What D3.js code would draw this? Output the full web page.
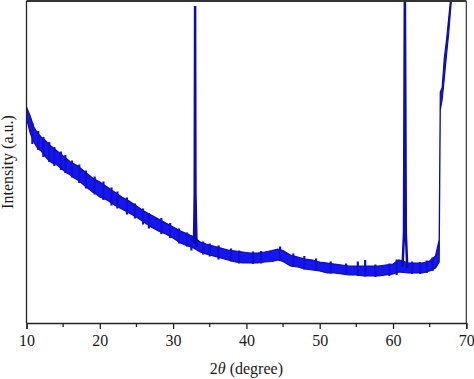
<!DOCTYPE html>
<html>
<head>
<meta charset="utf-8">
<script src="https://cdn.jsdelivr.net/npm/d3@7"></script>
<style>
  body { margin: 0; background: #fff; }
  text { font-family: "Liberation Serif", "Times New Roman", serif; fill: #1a1a1a; }
</style>
</head>
<body>
<div id="myVis"></div>
<script>
// XRD pattern, intensity in arbitrary counts

var width = 474;
var height = 379;
var padLeft = 26.5, padRight = 466.3, padTop = 1, padBottom = 323;

var xTicks = [10, 20, 30, 40, 50, 60, 70];
var xMinor = [15, 25, 35, 45, 55, 65];

// noisy background band (upper and lower edge)
var bandAngle = [10.0, 10.5, 11.0, 11.5, 12.0, 12.5, 13.0, 13.5, 14.0, 14.5, 15.0, 15.5, 16.0, 16.5, 17.0, 17.5, 18.0, 18.5, 19.0, 19.5,
  20.0, 21.0, 22.0, 23.0, 24.0, 25.0, 26.0, 27.0, 28.0, 29.0, 30.0, 31.0, 32.0, 32.8, 33.7, 34.5, 35.5, 36.5, 37.5, 38.5, 39.5,
  40.5, 41.5, 42.5, 43.5, 44.3, 45.0, 46.0, 47.0, 48.0, 49.0, 50.0, 51.0, 52.0, 53.0, 54.0, 55.0, 56.0, 57.0, 58.0, 59.0, 60.0,
  60.8, 62.1, 63.0, 64.0, 65.0, 65.8, 66.3, 66.45, 66.7, 67.0, 67.3, 67.6, 67.85, 68.2];
var bandHigh = [2160, 2070, 1960, 1900, 1860, 1830, 1790, 1760, 1730, 1700, 1670, 1640, 1610, 1590, 1570, 1540, 1510, 1480, 1450, 1430,
  1410, 1360, 1310, 1260, 1220, 1170, 1120, 1080, 1040, 1000, 960, 920, 890, 860, 810, 790, 770, 750, 730, 720, 710,
  700, 700, 710, 725, 740, 725, 680, 660, 640, 630, 610, 600, 590, 580, 570, 570, 570, 570, 570, 580, 590,
  630, 600, 600, 600, 620, 670, 830, 2310, 2350, 2650, 2830, 3050, 3230, 3500];
var bandLow = [2050, 1900, 1810, 1750, 1720, 1670, 1630, 1600, 1590, 1560, 1530, 1500, 1480, 1450, 1430, 1400, 1370, 1340, 1310, 1290,
  1260, 1230, 1180, 1140, 1100, 1060, 1010, 960, 920, 890, 850, 800, 770, 750, 710, 690, 670, 650, 630, 610, 600,
  600, 600, 610, 615, 630, 615, 570, 560, 540, 530, 520, 500, 500, 490, 480, 480, 470, 470, 470, 480, 490,
  510, 500, 500, 500, 520, 550, 610, 2130, 2230, 2450, 2680, 2900, 3130, 3400];

// single noise spikes sticking out of the band
var spikeAngle = [10.8, 11.6, 12.3, 13.1, 13.8, 14.7, 15.3, 16.2, 17.2, 18.1, 19.3, 20.5, 21.6, 22.4, 23.7, 24.8, 25.9, 26.7,
  28.4, 29.6, 30.8, 31.9, 32.5, 34.1, 35.0, 36.2, 37.9, 39.0, 40.9, 42.0, 44.6, 46.4, 47.9, 49.5, 51.5, 53.6, 55.2, 56.2,
  57.6, 59.5, 60.5, 62.6, 63.7, 64.6, 65.4];
var spikeHigh = [2000, 1920, 1860, 1810, 1760, 1715, 1680, 1625, 1585, 1525, 1465, 1415, 1355, 1315, 1255, 1195, 1145, 1100,
  1050, 1000, 945, 905, 875, 815, 795, 775, 745, 725, 715, 720, 765, 695, 670, 645, 615, 595, 615, 630,
  585, 595, 635, 615, 610, 625, 655];
var spikeLow = [1790, 1730, 1660, 1610, 1570, 1530, 1500, 1455, 1400, 1345, 1285, 1230, 1175, 1145, 1085, 1045, 985, 945,
  890, 850, 795, 765, 725, 685, 665, 635, 615, 595, 590, 595, 635, 560, 535, 520, 495, 480, 470, 465,
  460, 470, 480, 490, 490, 500, 520];

// sharp reflections
var peak1Angle = [32.85, 32.95, 33.0, 33.05, 33.2];
var peak1Counts = [800, 1300, 3170, 1300, 760];
var peak2Angle = [61.3, 61.5, 61.62, 61.75, 61.95];
var peak2Counts = [560, 900, 3400, 900, 550];

var svg = d3.select("#myVis")
  .append("svg")
  .attr("width", width)
  .attr("height", height);

var x = d3.scaleLinear().domain([10, 70]).range([padLeft, padRight]);
var y = d3.scaleLinear().domain([0, 3220]).range([padBottom, padTop]);

svg.append("clipPath").attr("id", "clip")
  .append("rect")
  .attr("x", padLeft).attr("y", padTop)
  .attr("width", padRight - padLeft).attr("height", padBottom - padTop);

var plot = svg.append("g").attr("clip-path", "url(#clip)");

var band = d3.area()
  .x(function(d, i) { return x(bandAngle[i]); })
  .y0(function(d, i) { return y(bandLow[i]); })
  .y1(function(d, i) { return y(bandHigh[i]); });

plot.append("path")
  .attr("d", band(bandAngle))
  .attr("fill", "#1616ee")
  .attr("stroke", "#0b0ba8")
  .attr("stroke-width", 1.2);

plot.append("g").selectAll("line")
  .data(spikeAngle)
  .join("line")
  .attr("x1", function(d) { return x(d); })
  .attr("x2", function(d) { return x(d); })
  .attr("y1", function(d, i) { return y(spikeHigh[i]); })
  .attr("y2", function(d, i) { return y(spikeLow[i]); })
  .attr("stroke", "#1010d0")
  .attr("stroke-width", 2.2);

var line = d3.line()
  .x(function(d) { return x(d[0]); })
  .y(function(d) { return y(d[1]); });

[[peak1Angle, peak1Counts], [peak2Angle, peak2Counts]].forEach(function(p) {
  plot.append("path")
    .attr("d", line(d3.zip(p[0], p[1])))
    .attr("fill", "none")
    .attr("stroke", "#0b0bb0")
    .attr("stroke-width", 2.5);
});

// frame
svg.append("line").attr("x1", padLeft).attr("x2", padRight).attr("y1", padTop).attr("y2", padTop)
  .attr("stroke", "#333").attr("stroke-width", 2);
svg.append("line").attr("x1", padRight).attr("x2", padRight).attr("y1", padTop).attr("y2", padBottom)
  .attr("stroke", "#333").attr("stroke-width", 1.2);
svg.append("line").attr("x1", padLeft).attr("x2", padLeft).attr("y1", padTop).attr("y2", padBottom)
  .attr("stroke", "#222").attr("stroke-width", 1.3);

var xAxis = svg.append("g")
  .attr("transform", "translate(0," + padBottom + ")")
  .call(d3.axisBottom(x).tickValues(xTicks).tickSize(6).tickPadding(6).tickFormat(d3.format("d")));
xAxis.select(".domain").attr("stroke", "#222").attr("stroke-width", 1.3);
xAxis.selectAll(".tick line").attr("stroke", "#222").attr("stroke-width", 1.3);
xAxis.selectAll("text").style("font-size", "16px").attr("fill", "#1a1a1a")
  .style("font-family", "'Liberation Serif', serif");

svg.append("g").selectAll("line")
  .data(xMinor)
  .join("line")
  .attr("x1", function(d) { return x(d); })
  .attr("x2", function(d) { return x(d); })
  .attr("y1", padBottom)
  .attr("y2", padBottom + 4)
  .attr("stroke", "#222")
  .attr("stroke-width", 1.3);

var xTitle = svg.append("text")
  .attr("x", x(40))
  .attr("y", 374)
  .attr("text-anchor", "middle")
  .style("font-size", "16px");
xTitle.append("tspan").text("2");
xTitle.append("tspan").style("font-style", "italic").text("θ");
xTitle.append("tspan").text(" (degree)");

svg.append("text")
  .attr("transform", "translate(13,162) rotate(-90)")
  .attr("text-anchor", "middle")
  .style("font-size", "16px")
  .text("Intensity (a.u.)");
</script>
</body>
</html>
